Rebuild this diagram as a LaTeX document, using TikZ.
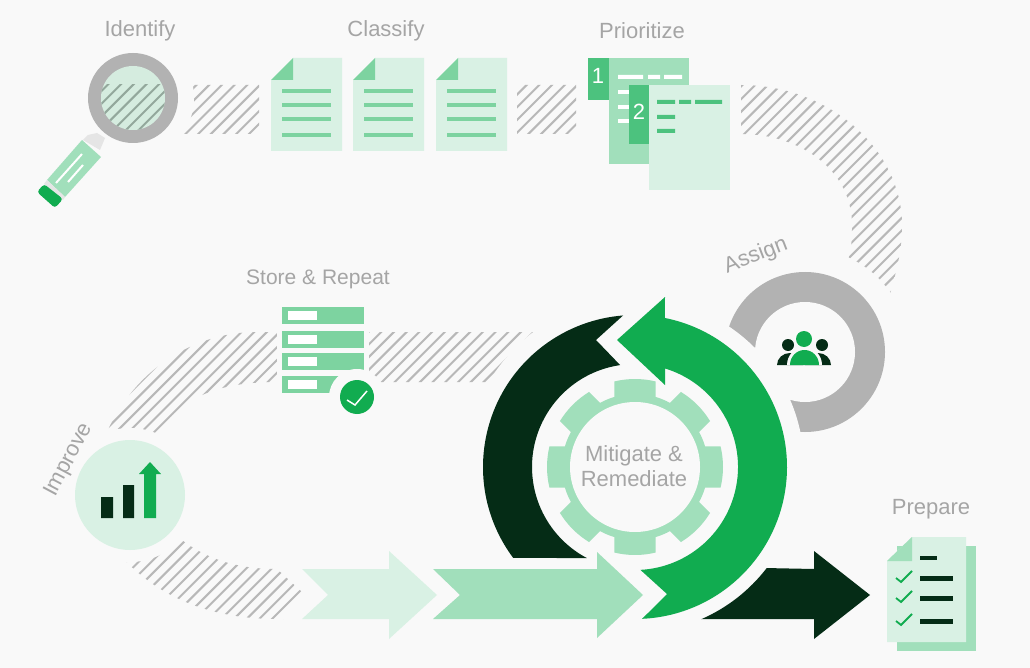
\documentclass[tikz,border=0pt]{standalone}
\usepackage{fontspec}
\setmainfont{Liberation Sans}
\definecolor{pageBg}{HTML}{F9F9F9}
\definecolor{leafDark}{HTML}{052C16}
\definecolor{leafMain}{HTML}{11AC50}
\definecolor{leafTab}{HTML}{4CC27E}
\definecolor{leafMid}{HTML}{7DD3A0}
\definecolor{leafSoft}{HTML}{A1DFBB}
\definecolor{leafPale}{HTML}{D9F1E4}
\definecolor{lensFill}{HTML}{D5ECDF}
\definecolor{lensHatch}{HTML}{93A89C}
\definecolor{ringGrey}{HTML}{B2B2B2}
\definecolor{hatchGrey}{HTML}{B8B8B8}
\definecolor{textGrey}{HTML}{A5A5A5}
\tikzset{
  steplabel/.style={text=textGrey, inner sep=0pt, align=center, font=\fontsize{22}{25}\selectfont},
  ranknum/.style={text=white, inner sep=0pt, font=\fontsize{22}{26}\selectfont},
  hatchline/.style={hatchGrey, line width=2pt},
  tick/.style={leafMain, line width=1.8pt}
}
\begin{document}
\begin{tikzpicture}[x=1pt, y=-1pt]
\useasboundingbox (0,0) rectangle (1030,668);
\fill[pageBg] (0,0) rectangle (1030,668);

% Hatched road
\begin{scope}
\clip (100,85) rectangle (259,134)
      (517,85) rectangle (576,134)
      (741,85) .. controls (830,85) and (902,150) .. (902,225)
               .. controls (902,250) and (897,272) .. (885,310)
               -- (845,270) .. controls (852,250) and (852,240) .. (852,225)
               .. controls (852,170) and (800,134) .. (741,134) -- cycle
      (277,332) -- (540,332) -- (540,382) -- (277,382) -- cycle
      (277,332) -- (257,332) .. controls (190,332) and (125,375) .. (100,450)
                -- (150,450) .. controls (170,405) and (205,382) .. (277,382) -- cycle
      (120,555) .. controls (160,600) and (215,619) .. (277,619) -- (283,619)
                -- (303,593) -- (277,569) .. controls (235,569) and (200,558) .. (170,530) -- cycle;
\foreach \k in {10,...,98} {
  \pgfmathsetmacro{\s}{2+12.7*\k}
  \draw[hatchline] (\s,0) -- (0,\s);
}
\end{scope}

% Gaps round the icons
\fill[pageBg] (133,98) circle[radius=61];
\fill[pageBg] (805,352) circle[radius=104];
\fill[pageBg] (130,495) circle[radius=67];
\fill[pageBg] (277,300) rectangle (369,392);

% Magnifier
\fill[black!10] (88,135) -- (97,133) -- (105,138) -- (100,150) -- (83,140) -- cycle;
\fill[leafSoft] (82,140) -- (101,157) -- (65,197) -- (47,180) -- cycle;
\fill[black!10] (47,180) -- (65,197) -- (63,200) -- (44,184) -- cycle;
\fill[leafMain, rounded corners=3pt] (44,184) -- (63,199) -- (55,208) -- (37,192) -- cycle;
\draw[white, line width=2pt] (82,154) -- (56,183) (83,165) -- (68,182);
\fill[ringGrey] (133,98) circle[radius=45];
\fill[lensFill] (133,98) circle[radius=32];
\begin{scope}
\clip (133,98) circle[radius=32];
\clip (100,85) rectangle (170,134);
\foreach \k in {12,...,26} {
  \pgfmathsetmacro{\s}{2+12.7*\k}
  \draw[hatchline, color=lensHatch] (\s,0) -- (0,\s);
}
\end{scope}

% Classify sheets
\foreach \x in {271,353,436} {
  \fill[leafPale] (\x+22,58) -- (\x+71,58) -- (\x+71,151) -- (\x,151) -- (\x,80) -- cycle;
  \fill[leafMid] (\x+22,58) -- (\x+22,80) -- (\x,80) -- cycle;
  \foreach \y in {91,105,119,135}
    \fill[leafMid] (\x+11,\y-2) rectangle (\x+60,\y+2);
}

% Prioritize sheets
\fill[leafSoft] (609,58) rectangle (689,164);
\fill[leafTab] (588,58) rectangle (609,100);
\fill[white] (618,75) rectangle (643,79) (648,75) rectangle (660,79) (664,75) rectangle (682,79);
\foreach \y in {92,107,121}
  \fill[white] (618,\y-2) rectangle (632,\y+2);
\fill[leafPale] (649,85) rectangle (730,190);
\fill[leafTab] (629,85) rectangle (649,144);
\fill[leafTab] (657,100) rectangle (675,104) (679,100) rectangle (691,104) (695,100) rectangle (722,104);
\fill[leafTab] (657,115) rectangle (675,119) (657,129) rectangle (675,133);
\node[ranknum] (rankone) at (598,76) {1};
\node[ranknum] (ranktwo) at (639,112) {2};

% Assign ring
\fill[ringGrey] (805,352) circle[radius=80];
\fill[pageBg] (805,352) circle[radius=50];
\fill[pageBg] (635,467) circle[radius=169];
\fill[leafDark] (788,345) circle[radius=6] (822,345) circle[radius=6];
\fill[leafDark] (777,365) arc[start angle=180, end angle=360, x radius=13, y radius=12] -- cycle;
\fill[leafDark] (805,365) arc[start angle=180, end angle=360, x radius=13, y radius=12] -- cycle;
\fill[pageBg] (787,365) arc[start angle=180, end angle=360, x radius=17.5, y radius=18] -- cycle;
\fill[leafMain] (804,339) circle[radius=8];
\fill[leafMain] (790,365) arc[start angle=180, end angle=360, x radius=14.5, y radius=15] -- cycle;

% Store rows
\foreach \y in {307,331,353,376} {
  \fill[leafMid] (282,\y) rectangle (364,\y+17);
  \fill[white] (288,\y+4) rectangle (317,\y+13);
}
\fill[pageBg] (357,397) circle[radius=28];
\fill[leafMain] (357,397) circle[radius=17];
\draw[white, line width=1.5pt] (347,400) -- (355,405) -- (367,391);

% Improve badge
\fill[leafPale] (130,495) circle[radius=55];
\fill[leafDark] (101,497) rectangle (113,518) (123,485) rectangle (134,518);
\fill[leafMain] (144,518) -- (144,474) -- (139,474) -- (150,462) -- (161,474) -- (156,474) -- (156,518) -- cycle;

% Straight arrows
\fill[leafPale] (302,569) -- (389,569) -- (389,551) -- (437,595) -- (389,639) -- (389,619) -- (302,619) -- (328,595) -- cycle;
\fill[leafSoft] (433,569) -- (597,569) -- (597,552) -- (643,595) -- (597,638) -- (597,619) -- (433,619) -- (460,595) -- cycle;

% Cycle round the gear
\begin{scope}[shift={(635,467)}]
\fill[leafDark] (66.5:166) arc[start angle=66.5, end angle=37.5, radius=166]
  -- (179,102) -- (179,84) -- (235,128) -- (179,172) -- (179,152) -- cycle;
\fill[leafDark] (143.3:152) arc[start angle=143.3, end angle=265.5, radius=152]
  -- (-39,-127) -- (261.7:103) arc[start angle=261.7, end angle=117.8, radius=103] -- cycle;
\fill[leafMain] (87.3:152) arc[start angle=87.3, end angle=-78.7, radius=152]
  -- (30,-170) -- (-18,-127) -- (30,-82) -- (-73:103) arc[start angle=-73, end angle=87, radius=103]
  -- (32,127) -- cycle;
% Gear
\foreach \a in {0,45,...,315}
  \fill[leafSoft] (\a-13.5:88) arc[start angle=\a-13.5, end angle=\a+13.5, radius=88]
    -- (\a+20:60) -- (\a-20:60) -- cycle;
\fill[leafSoft] (0,0) circle[radius=73];
\fill[pageBg] (0,0) circle[radius=65];
\end{scope}

% Prepare sheets
\fill[leafSoft] (897,546) rectangle (976,651);
\fill[leafPale] (912,537) -- (966,537) -- (966,642) -- (887,642) -- (887,561) -- cycle;
\fill[leafSoft] (912,537) -- (912,561) -- (887,561) -- cycle;
\fill[leafDark] (920,556) rectangle (937,560);
\foreach \y in {578,598,621} {
  \fill[leafDark] (920,\y-2.5) rectangle (953,\y+2.5);
  \draw[tick] (896,\y) -- (901,\y+4) -- (912,\y-7);
}

% Labels
\node[steplabel] (identify) at (140,31) {Identify};
\node[steplabel] (classify) at (386,31) {Classify};
\node[steplabel] (prioritize) at (642,31) {Prioritize};
\node[steplabel, font=\fontsize{21}{25}\selectfont] (store) at (318,279) {Store \& Repeat};
\node[steplabel] (prepare) at (931,509) {Prepare};
\node[steplabel] (mitigate) at (634,466) {Mitigate \&\\Remediate};
\node[steplabel, rotate=21] (assign) at (756,256) {Assign};
\node[steplabel, rotate=62] (improve) at (69,460) {Improve};
\end{tikzpicture}
\end{document}
